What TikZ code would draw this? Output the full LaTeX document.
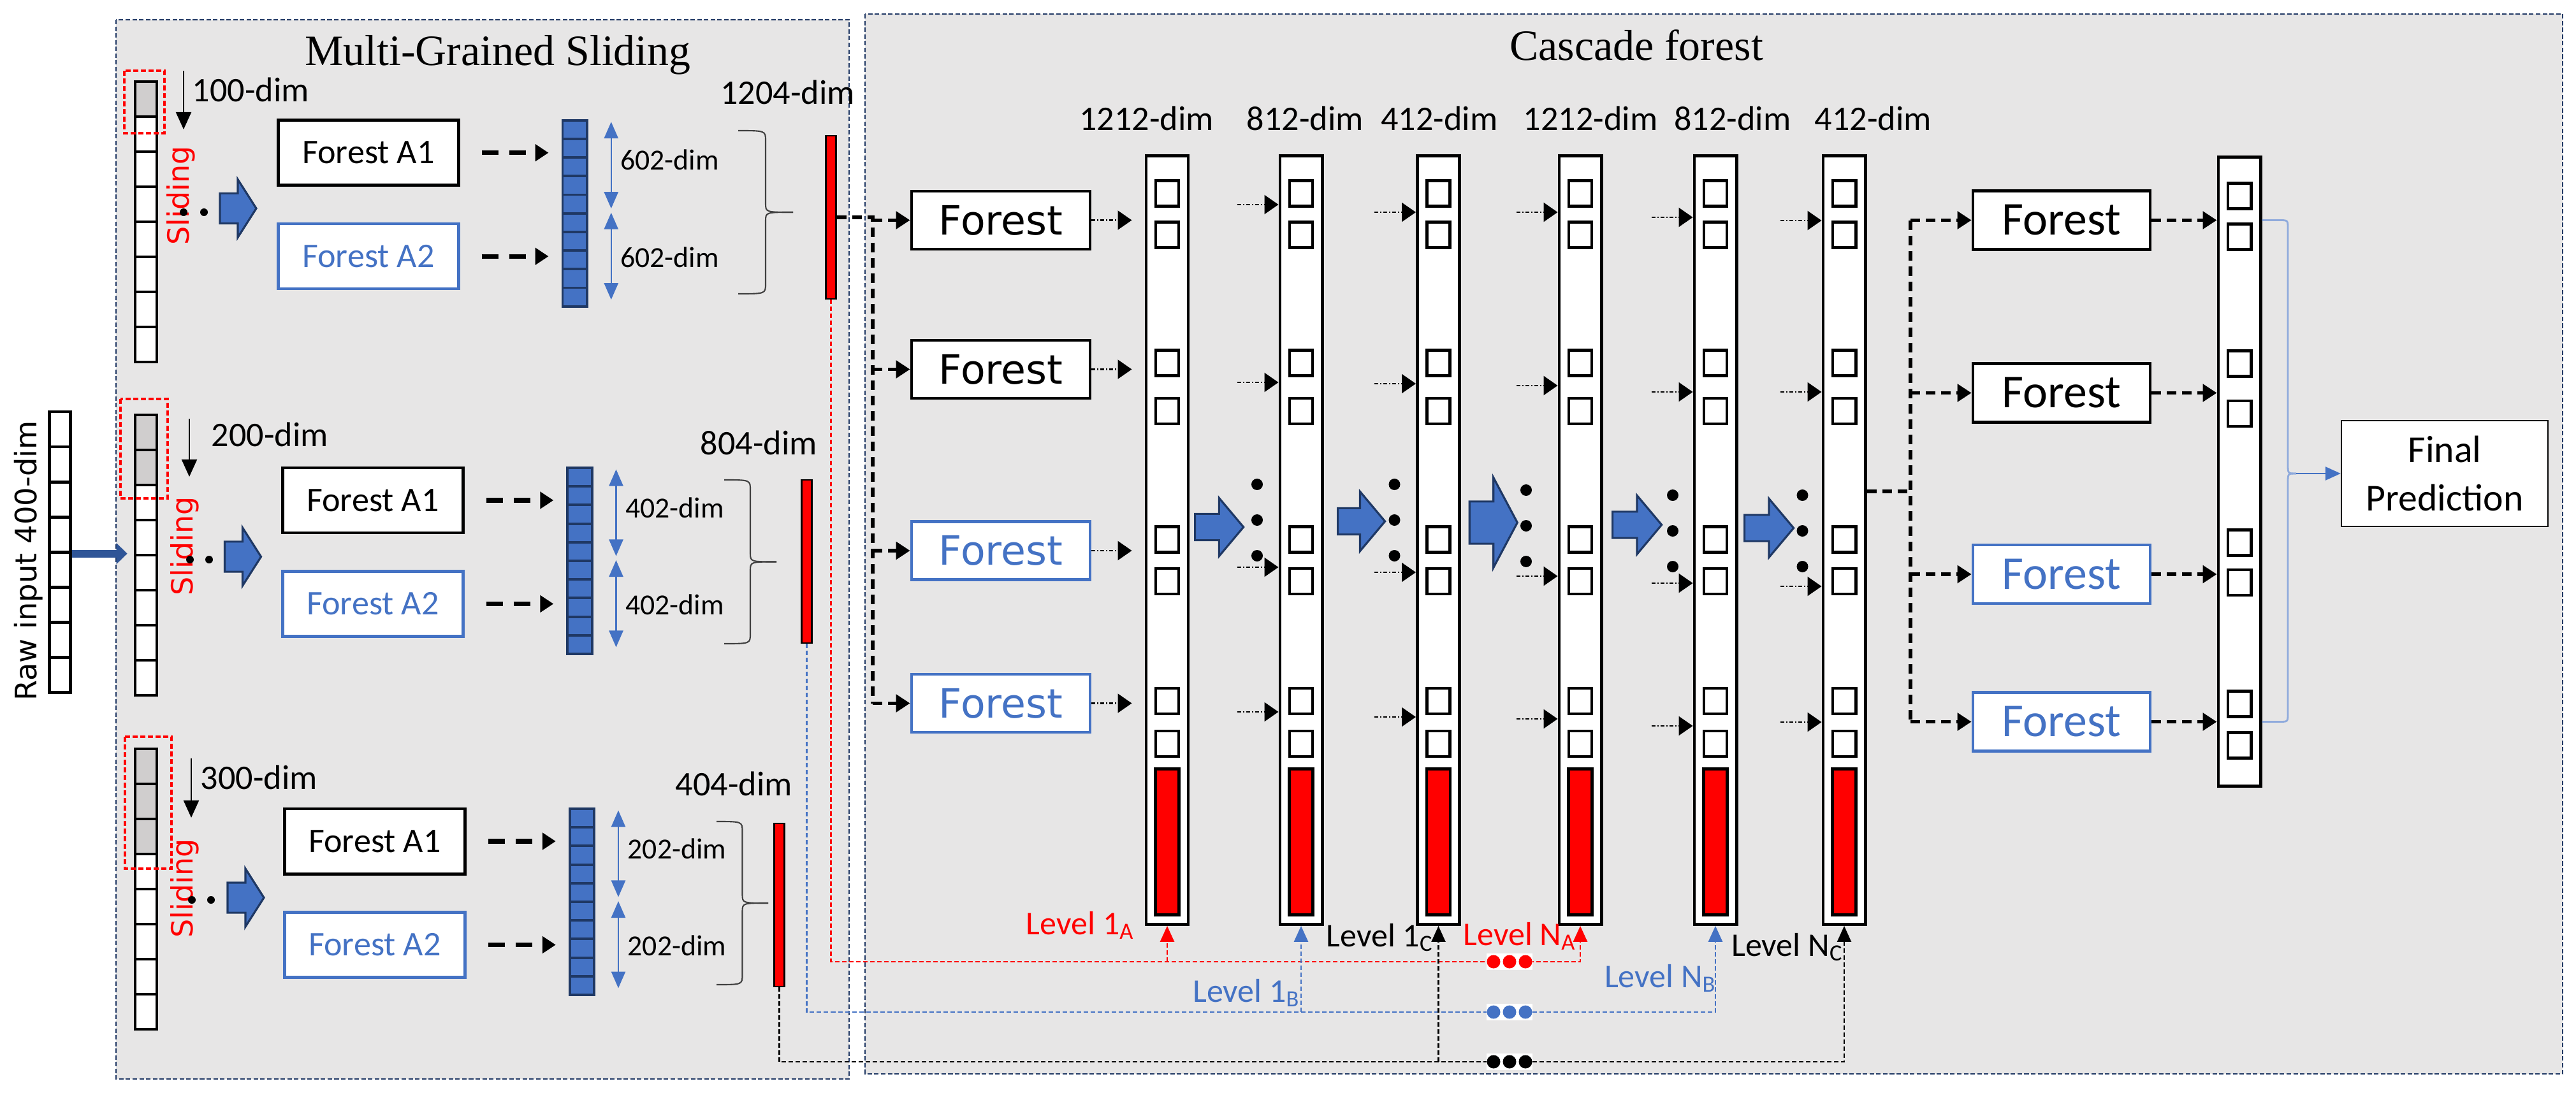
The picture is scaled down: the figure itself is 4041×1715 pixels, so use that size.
\documentclass[tikz,border=0pt]{standalone}
\usepackage{fontspec}
\setmainfont{Carlito}
\newfontfamily\wideface{DejaVu Sans}
\newfontfamily\serifface{Liberation Serif}
\usetikzlibrary{positioning, calc, arrows.meta, shapes.arrows}

\definecolor{panelfill}{HTML}{E7E6E6}
\definecolor{panelline}{HTML}{203864}
\definecolor{forestblue}{HTML}{4472C4}
\definecolor{deepblue}{HTML}{1F3864}
\definecolor{windowgray}{HTML}{D0CECE}
\definecolor{rawblue}{HTML}{2F5597}
\definecolor{bracketblue}{HTML}{8FAADC}

\begin{document}
\begin{tikzpicture}[x=0.01cm, y=-0.01cm,
    panel/.style={draw=panelline, fill=panelfill, line width=0.7pt, dash pattern=on 2pt off 1pt},
    heading/.style={font=\serifface\fontsize{19.3}{23}\selectfont, inner sep=0pt},
    cell/.style={draw=black, fill=white, line width=1.3pt, inner sep=0pt, minimum width=0.34cm, minimum height=0.55cm},
    window/.style={draw=red, line width=1.1pt, dash pattern=on 0.08cm off 0.04cm},
    slidearrow/.style={line width=0.6pt, -{Triangle[length=0.27cm, width=0.24cm]}},
    slidetext/.style={font=\wideface\fontsize{13.1}{15}\selectfont, text=red, rotate=90, inner sep=0pt},
    rawtext/.style={font=\wideface\fontsize{13.2}{15}\selectfont, rotate=90, inner sep=0pt},
    rawarrow/.style={draw=rawblue, line width=3.4pt, -{Triangle[length=0.17cm, width=0.32cm]}},
    dimlabel/.style={font=\fontsize{15.4}{18}\selectfont, inner sep=0pt},
    partlabel/.style={font=\fontsize{13}{15}\selectfont, inner sep=0pt},
    pusharrow/.style={single arrow, draw=deepblue, fill=forestblue, line width=0.9pt, inner xsep=0pt, inner ysep=0.22cm,
        single arrow head extend=0.22cm, single arrow tip angle=115, minimum height=0.57cm},
    forestA/.style={draw=black, fill=white, line width=1.4pt, inner sep=0pt, minimum width=2.83cm, minimum height=1.02cm, font=\fontsize{15.4}{18}\selectfont},
    forestB/.style={forestA, draw=forestblue, text=forestblue, line width=1.2pt},
    vecslot/.style={draw=deepblue, fill=forestblue, line width=1.1pt, inner sep=0pt, minimum width=0.385cm, minimum height=0.292cm},
    spanarrow/.style={draw=forestblue, line width=0.7pt, {Triangle[length=0.26cm, width=0.22cm]}-{Triangle[length=0.26cm, width=0.22cm]}},
    fatdash/.style={line width=2pt, dash pattern=on 0.26cm off 0.17cm, -{Triangle[length=0.21cm, width=0.26cm]}},
    concat/.style={draw=black!75, line width=0.6pt},
    redbar/.style={draw=black, fill=red, line width=0.6pt, inner sep=0pt, minimum width=0.16cm, minimum height=2.55cm},
    layercol/.style={draw=black, fill=white, line width=1.4pt, inner sep=0pt, minimum width=0.66cm},
    slot/.style={draw=black, fill=white, line width=1.4pt, inner sep=0pt, minimum width=0.36cm, minimum height=0.40cm},
    probbar/.style={draw=black, fill=red, line width=1.4pt, inner sep=0pt, minimum width=0.37cm, minimum height=2.28cm},
    stagearrow/.style={single arrow, draw=deepblue, fill=forestblue, line width=0.9pt, inner xsep=0pt},
    cascforest/.style={draw=black, fill=white, line width=1.3pt, inner sep=0pt, minimum width=2.8cm, minimum height=0.91cm, font=\wideface\fontsize{18}{21}\selectfont},
    outforest/.style={draw=black, fill=white, line width=1.3pt, inner sep=0pt, minimum width=2.78cm, minimum height=0.92cm, font=\fontsize{21}{25}\selectfont},
    busdash/.style={line width=1.6pt, dash pattern=on 0.15cm off 0.09cm},
    busarrow/.style={busdash, -{Triangle[length=0.22cm, width=0.27cm]}},
    feedarrow/.style={line width=0.6pt, dash pattern=on 0.06cm off 0.03cm on 0.02cm off 0.03cm, -{Triangle[length=0.22cm, width=0.3cm]}},
    finalbox/.style={draw=black, fill=white, line width=0.6pt, inner sep=0pt, minimum width=3.24cm, minimum height=1.66cm, align=center, font=\fontsize{17}{21.6}\selectfont},
    bracketline/.style={draw=bracketblue, line width=0.8pt},
    levellink/.style={line width=0.8pt, dash pattern=on 0.07cm off 0.04cm, -{Triangle[length=0.25cm, width=0.22cm]}},
    levellabel/.style={font=\fontsize{14.8}{17}\selectfont, inner sep=0pt, anchor=base east},
    dotgap/.style={fill=white, inner sep=0pt, minimum width=0.72cm, minimum height=0.26cm}
]

\fill[white] (0,0) rectangle (4041,1715);
\useasboundingbox (0,0) rectangle (4041,1715);

% Panels
\draw[panel] (182,31) rectangle (1332,1693);
\draw[panel] (1357,22) rectangle (4020,1685);
\node[heading, anchor=base] (mgstitle) at (781,103) {Multi-Grained Sliding};
\node[heading, anchor=base] (cftitle) at (2567,94) {Cascade forest};

% Raw input
\foreach \k in {1,...,8}
  \node[cell, minimum width=0.325cm] (raw-\k) at (94,{646+55.1*(\k-0.5)}) {};
\node[rawtext] (rawlabel) at (45,880) {Raw input 400-dim};

% Sliding windows
\foreach \row/\ytop/\ng/\ax/\aya/\ayb/\lx/\ly/\wsize in {1/128/1/288/111/203/301/159/100, 2/651/2/297/657/748/331/700/200, 3/1175/3/300/1190/1283/314/1238/300} {
  \foreach \k in {1,...,8}
    \node[cell] (s\row-\k) at (229,{\ytop+55*(\k-0.5)}) {};
  \foreach \k in {1,...,\ng}
    \node[cell, fill=windowgray] (g\row-\k) at (s\row-\k) {};
  \coordinate (slide\row-a) at (\ax,\aya);
  \coordinate (slide\row-b) at (\ax,\ayb);
  \draw[slidearrow] (slide\row-a) -- (slide\row-b);
  \node[dimlabel, anchor=base west] (win\row) at (\lx,\ly) {\wsize-dim};
}
\draw[window] (195,111) rectangle (258,209);
\draw[window] (189,626) rectangle (263,782);
\draw[window] (196,1156) rectangle (269,1363);

\foreach \row/\tx/\ty/\da/\db/\dy in {1/284/307/288/320/333, 2/290/857/298/328/878, 3/290/1394/301/331/1412} {
  \node[slidetext] (sl\row) at (\tx,\ty) {Sliding};
  \fill (\da,\dy) circle (6) (\db,\dy) circle (6);
}
\foreach \row/\x/\y in {1/366/327, 2/373.5/873.5, 3/378/1408.5}
  \node[pusharrow] (push\row) at (\x,\y) {};

\draw[rawarrow, shorten >=0.1cm] (raw-4.south east) -- (raw-4.south east -| s2-1.west);

% Forests A1/A2, class vectors, concatenation
\foreach \row/\fx/\vx/\ytop/\half/\bx/\bya/\byb/\am/\rx/\ry/\lx/\ly/\full in {
    1/578/901.75/188.7/602/1158/205/461/86/1303.5/341/1235.5/163/1204,
    2/585/909.5/734/402/1136/753/1010/82/1265.5/881/1190.5/713/804,
    3/588/913/1269/202/1124/1289/1545/81/1222.5/1420/1151.5/1248/404} {
  \node[forestA] (fa\row) at (\fx,{\ytop+51}) {Forest A1};
  \node[forestB] (fb\row) at (\fx,{\ytop+213.5}) {Forest A2};
  \foreach \k in {1,...,10}
    \node[vecslot] (v\row-\k) at (\vx,{\ytop+29.2*(\k-0.5)}) {};
  \draw[fatdash, shorten <=0.34cm, shorten >=0.2cm] (fa\row.east) -- (fa\row.east -| v\row-1.west);
  \draw[fatdash, shorten <=0.34cm, shorten >=0.2cm] (fb\row.east) -- (fb\row.east -| v\row-1.west);
  \coordinate (span\row-a) at ({\vx+57},{\ytop+2.5});
  \coordinate (span\row-b) at ({\vx+57},{\ytop+138.5});
  \coordinate (span\row-c) at ({\vx+57},{\ytop+145});
  \coordinate (span\row-d) at ({\vx+57},{\ytop+281.5});
  \draw[spanarrow] (span\row-a) -- (span\row-b);
  \draw[spanarrow] (span\row-c) -- (span\row-d);
  \node[partlabel, anchor=base west] (part\row-a) at ({\vx+71},{\ytop+78}) {\half-dim};
  \node[partlabel, anchor=base west] (part\row-b) at ({\vx+71},{\ytop+230.5}) {\half-dim};
  % brace
  \pgfmathsetmacro{\spine}{\bx+\am/2}
  \pgfmathsetmacro{\bmid}{(\bya+\byb)/2}
  \coordinate (cat\row-a) at (\bx,\bya);
  \coordinate (cat\row-b) at (\bx,\byb);
  \coordinate (cat\row-tip) at ({\bx+\am},\bmid);
  \draw[concat] (cat\row-a) .. controls (\spine,\bya) .. (\spine,{\bya+16}) -- (\spine,{\bmid-14}) .. controls (\spine,\bmid) .. (cat\row-tip);
  \draw[concat] (cat\row-b) .. controls (\spine,\byb) .. (\spine,{\byb-16}) -- (\spine,{\bmid+14}) .. controls (\spine,\bmid) .. (cat\row-tip);
  \node[redbar] (rb\row) at (\rx,\ry) {};
  \node[dimlabel, anchor=base] (full\row) at (\lx,\ly) {\full-dim};
}

% Cascade layers
\foreach \i/\x in {1/1831, 2/2041, 3/2256.5, 4/2479, 5/2691, 6/2893} {
  \node[layercol, minimum height=12.05cm] (c\i) at (\x,847.5) {};
  \foreach \k/\y in {1/303.5, 2/368.5, 3/569.5, 4/645, 5/846.5, 6/912, 7/1100, 8/1167}
    \node[slot] (c\i-q\k) at (\x,\y) {};
  \node[probbar] (c\i-r) at (\x,1321) {};
}
\foreach \i/\x/\txt in {1/1798.5/1212, 2/2047.5/812, 3/2258/412, 4/2495/1212, 5/2718/812, 6/2938.5/412}
  \node[dimlabel, anchor=base] (cd\i) at (\x,204) {\txt-dim};

\foreach \i/\x/\y/\len/\shaft/\ext/\ang in {1/1904/827/0.76cm/0.19cm/0.25cm/100, 2/2127/818/0.74cm/0.19cm/0.26cm/100, 3/2334/820/0.75cm/0.315cm/0.375cm/124, 4/2559.5/823.5/0.77cm/0.19cm/0.255cm/100, 5/2766.5/828.5/0.77cm/0.19cm/0.255cm/100}
  \node[stagearrow, minimum height=\len, inner ysep=\shaft, single arrow head extend=\ext, single arrow tip angle=\ang] (stage\i) at (\x,\y) {};
\foreach \x/\y in {1972/760, 2187.5/760, 2394/769, 2624/777, 2827.5/777}
  \foreach \dd in {0,56,112}
    \fill (\x,{\y+\dd}) circle (9);

% Input forests of the cascade
\foreach \k/\y/\col in {1/345.5/black, 2/579.5/black, 3/864/forestblue, 4/1103.5/forestblue}
  \node[cascforest, draw=\col, text=\col] (lf\k) at (1570,\y) {Forest};
\coordinate (busL) at (1369,341);
\draw[busdash] (rb1.east) -- (busL) -- (busL |- lf4.west);
\foreach \k in {1,...,4} {
  \draw[busarrow] (busL |- lf\k.west) -- (lf\k.west);
  \draw[feedarrow, shorten >=0.2cm] (lf\k.east) -- (lf\k.east -| c1.west);
}

\foreach \i/\ya/\yb/\yc/\yd in {2/321/600/890/1117, 3/333/602/898/1125, 4/333/605/904/1128, 5/341/615/915/1139, 6/346/615/920/1133}
  \foreach \y [count=\k] in {\ya,\yb,\yc,\yd} {
    \coordinate (feed\i-\k) at ($(c\i.west)+(-65,{\y-847.5})$);
    \draw[feedarrow] (feed\i-\k) -- (feed\i-\k -| c\i.west);
  }

% Output forests
\foreach \k/\y/\col in {1/345.5/black, 2/616.5/black, 3/901/forestblue, 4/1132.5/forestblue}
  \node[outforest, draw=\col, text=\col] (rf\k) at (3234,\y) {Forest};
\node[layercol, minimum height=9.86cm] (rc) at (3513,740) {};
\foreach \k/\y in {1/307.5, 2/371.5, 3/570.5, 4/649, 5/851.5, 6/914, 7/1104.5, 8/1169.5}
  \node[slot] (rc-q\k) at (3513,\y) {};
\coordinate (busR) at (2997,771);
\draw[busdash] (c6.east |- busR) -- (busR);
\draw[busdash] (busR |- rf1.west) -- (busR |- rf4.west);
\foreach \k in {1,...,4} {
  \draw[busarrow] (busR |- rf\k.west) -- (rf\k.west);
  \draw[busarrow] (rf\k.east) -- (rf\k.east -| rc.west);
}

% Final prediction
\node[finalbox] (fp) at (3835,743) {Final\\Prediction};
\coordinate (brTop) at (rc.east |- rf1.east);
\coordinate (brBot) at (rc.east |- rf4.east);
\coordinate (brTip) at (3602,743);
\draw[bracketline] (brTop) -- (3576,345.5) .. controls (3589,345.5) .. (3589,359) -- (3589,729) .. controls (3589,743) .. (brTip);
\draw[bracketline] (brBot) -- (3576,1132.5) .. controls (3589,1132.5) .. (3589,1119) -- (3589,757) .. controls (3589,743) .. (brTip);
\draw[bracketline, draw=forestblue, -{Triangle[length=0.24cm, width=0.21cm]}] (brTip) -- (fp.west);

% Levels
\coordinate (yA) at (0,1509);
\coordinate (yB) at (0,1588);
\coordinate (yC) at (0,1666);
\draw[levellink, red] (rb1.south) |- (c4.south |- yA) -- (c4.south);
\draw[levellink, red] (c1.south |- yA) -- (c1.south);
\draw[levellink, forestblue] (rb2.south) |- (c5.south |- yB) -- (c5.south);
\draw[levellink, forestblue] (c2.south |- yB) -- (c2.south);
\draw[levellink, black, line width=0.6pt] (rb3.south) |- (c6.south |- yC) -- (c6.south);
\draw[levellink, black, line width=0.6pt] (c3.south |- yC) -- (c3.south);
\foreach \g/\y/\col in {A/1509/red, B/1588/forestblue, C/1666/black} {
  \node[dotgap] (gap\g) at (2368,\y) {};
  \foreach \dx in {-25,0,25}
    \fill[\col] ($(gap\g.center)+(\dx,0)$) circle (10.5);
}
\node[levellabel, text=red] (lvl1a) at (1780,1466) {Level 1\textsubscript{A}};
\node[levellabel, text=forestblue] (lvl1b) at (2040,1572) {Level 1\textsubscript{B}};
\node[levellabel] (lvl1c) at (2249,1485) {Level 1\textsubscript{C}};
\node[levellabel, text=red] (lvlna) at (2473,1483) {Level N\textsubscript{A}};
\node[levellabel, text=forestblue] (lvlnb) at (2693,1549) {Level N\textsubscript{B}};
\node[levellabel] (lvlnc) at (2892,1500) {Level N\textsubscript{C}};

\end{tikzpicture}
\end{document}
